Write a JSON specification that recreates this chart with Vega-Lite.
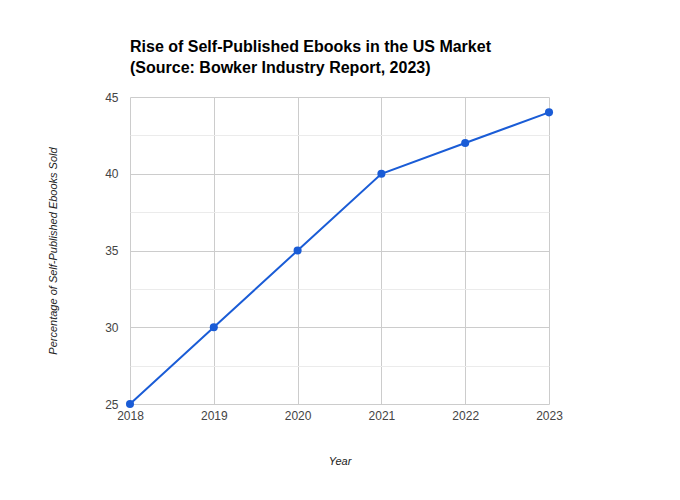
{
  "$schema": "https://vega.github.io/schema/vega-lite/v6.json",
  "width": 419,
  "height": 307,
  "autosize": {"type": "none"},
  "padding": {"left": 130, "top": 97, "right": 131, "bottom": 96},
  "background": "white",
  "title": {
    "text": ["Rise of Self-Published Ebooks in the US Market", "(Source: Bowker Industry Report, 2023)"],
    "anchor": "start",
    "frame": "group",
    "font": "Liberation Sans",
    "fontSize": 16,
    "fontWeight": "bold",
    "color": "#000000",
    "lineHeight": 21,
    "offset": 15
  },
  "data": {
    "values": [
      {"Year": 2018, "Percent": 25},
      {"Year": 2019, "Percent": 30},
      {"Year": 2020, "Percent": 35},
      {"Year": 2021, "Percent": 40},
      {"Year": 2022, "Percent": 42},
      {"Year": 2023, "Percent": 44}
    ]
  },
  "config": {
    "view": {"stroke": null},
    "axis": {
      "labelFont": "Liberation Sans",
      "labelFontSize": 12,
      "labelColor": "#444444",
      "titleFont": "Liberation Sans",
      "titleFontSize": 11,
      "titleFontStyle": "italic",
      "titleFontWeight": "normal",
      "titleColor": "#222222",
      "domain": false,
      "ticks": false
    }
  },
  "mark": {"type": "line", "color": "#1a5cd6", "strokeWidth": 2, "point": {"filled": true, "size": 65, "color": "#1a5cd6", "opacity": 1}},
  "encoding": {
    "x": {
      "field": "Year",
      "type": "quantitative",
      "scale": {"domain": [2018, 2023], "nice": false, "zero": false},
      "axis": {
        "title": "Year",
        "values": [2018, 2018.5, 2019, 2019.5, 2020, 2020.5, 2021, 2021.5, 2022, 2022.5, 2023],
        "labelExpr": "datum.value % 1 === 0 ? datum.value : ''",
        "format": "d",
        "gridColor": {"condition": {"test": "datum.value % 1 !== 0", "value": "#ebebeb"}, "value": "#cccccc"},
        "labelPadding": 6,
        "titlePadding": 34,
        "labelFlush": false
      }
    },
    "y": {
      "field": "Percent",
      "type": "quantitative",
      "scale": {"domain": [25, 45], "nice": false, "zero": false},
      "axis": {
        "title": "Percentage of Self-Published Ebooks Sold",
        "values": [25, 27.5, 30, 32.5, 35, 37.5, 40, 42.5, 45],
        "labelExpr": "datum.value % 5 === 0 ? datum.value : ''",
        "gridColor": {"condition": {"test": "datum.value % 5 !== 0", "value": "#ebebeb"}, "value": "#cccccc"},
        "labelPadding": 12,
        "titlePadding": 46
      }
    }
  }
}
